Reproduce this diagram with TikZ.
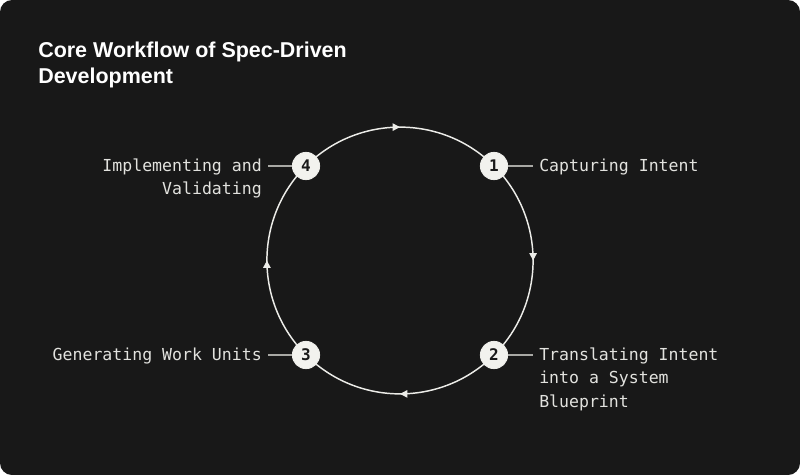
\documentclass[tikz,border=0pt]{standalone}
\usepackage{fontspec}
\setmainfont{Liberation Sans}
\newfontfamily\monofont{DejaVu Sans Mono}
\usetikzlibrary{arrows.meta,decorations.markings}
\definecolor{bg}{HTML}{181818}
\definecolor{ink}{HTML}{E2E2DE}
\definecolor{ring}{HTML}{ECECE8}
\definecolor{tick}{HTML}{A8A8A4}
\definecolor{disc}{HTML}{F2F2EE}
\definecolor{num}{HTML}{1A1A1A}
\pgfdeclarelayer{backfill}
\pgfdeclarelayer{edges}
\pgfsetlayers{backfill,edges,main}
\begin{document}
\begin{tikzpicture}[x=0.75pt,y=-0.75pt,
  stepnum/.style={circle, fill=disc, draw=ring, line width=0.6pt, minimum size=20.5pt, inner sep=0pt,
    font=\monofont\bfseries\fontsize{12}{13}\selectfont, text=num},
  lbl/.style={font=\monofont\fontsize{12.4}{17.6}\selectfont, text=ink, inner sep=0pt},
  flow/.style={draw=ring, line width=1.1pt,
    decoration={markings, mark=at position 0.5 with {\arrow{Triangle[length=5.5pt,width=5.5pt]}}},
    postaction={decorate}},
  leader/.style={draw=tick, line width=0.8pt}
]
\useasboundingbox (0,0) rectangle (800,475);
\begin{pgfonlayer}{backfill}
\fill[white] (0,0) rectangle (800,475);
\fill[bg, rounded corners=9pt] (0,0) rectangle (800,475);
\end{pgfonlayer}

\node[anchor=base west, align=left, text=white, inner sep=0pt,
  font=\bfseries\fontsize{16.1}{19.5}\selectfont] (title) at (38,83)
  {Core Workflow of Spec-Driven\\Development};

\node[stepnum] (n1) at (494,166) {1};
\node[stepnum] (n2) at (494,355) {2};
\node[stepnum] (n3) at (306,355) {3};
\node[stepnum] (n4) at (306,166) {4};

\begin{pgfonlayer}{edges}
\path[flow] (n4.center) to[bend left=45] (n1.center);
\path[flow] (n1.center) to[bend left=45] (n2.center);
\path[flow] (n2.center) to[bend left=45] (n3.center);
\path[flow] (n3.center) to[bend left=45] (n4.center);
\end{pgfonlayer}

\node[lbl, anchor=base west] (l1) at (539,171) {Capturing Intent};
\node[lbl, anchor=base west, align=left] (l2) at (539,407) {Translating Intent\\into a System\\Blueprint};
\node[lbl, anchor=base east] (l3) at (262,360) {Generating Work Units};
\node[lbl, anchor=base east, align=right] (l4) at (262,194.5) {Implementing and\\Validating};

\draw[leader] (n1.east) -- ([xshift=-4.5pt]n1.east -| l1.west);
\draw[leader] (n2.east) -- ([xshift=-4.5pt]n2.east -| l2.west);
\draw[leader] (n3.west) -- ([xshift=4.5pt]n3.west -| l3.east);
\draw[leader] (n4.west) -- ([xshift=4.5pt]n4.west -| l4.east);
\end{tikzpicture}
\end{document}
